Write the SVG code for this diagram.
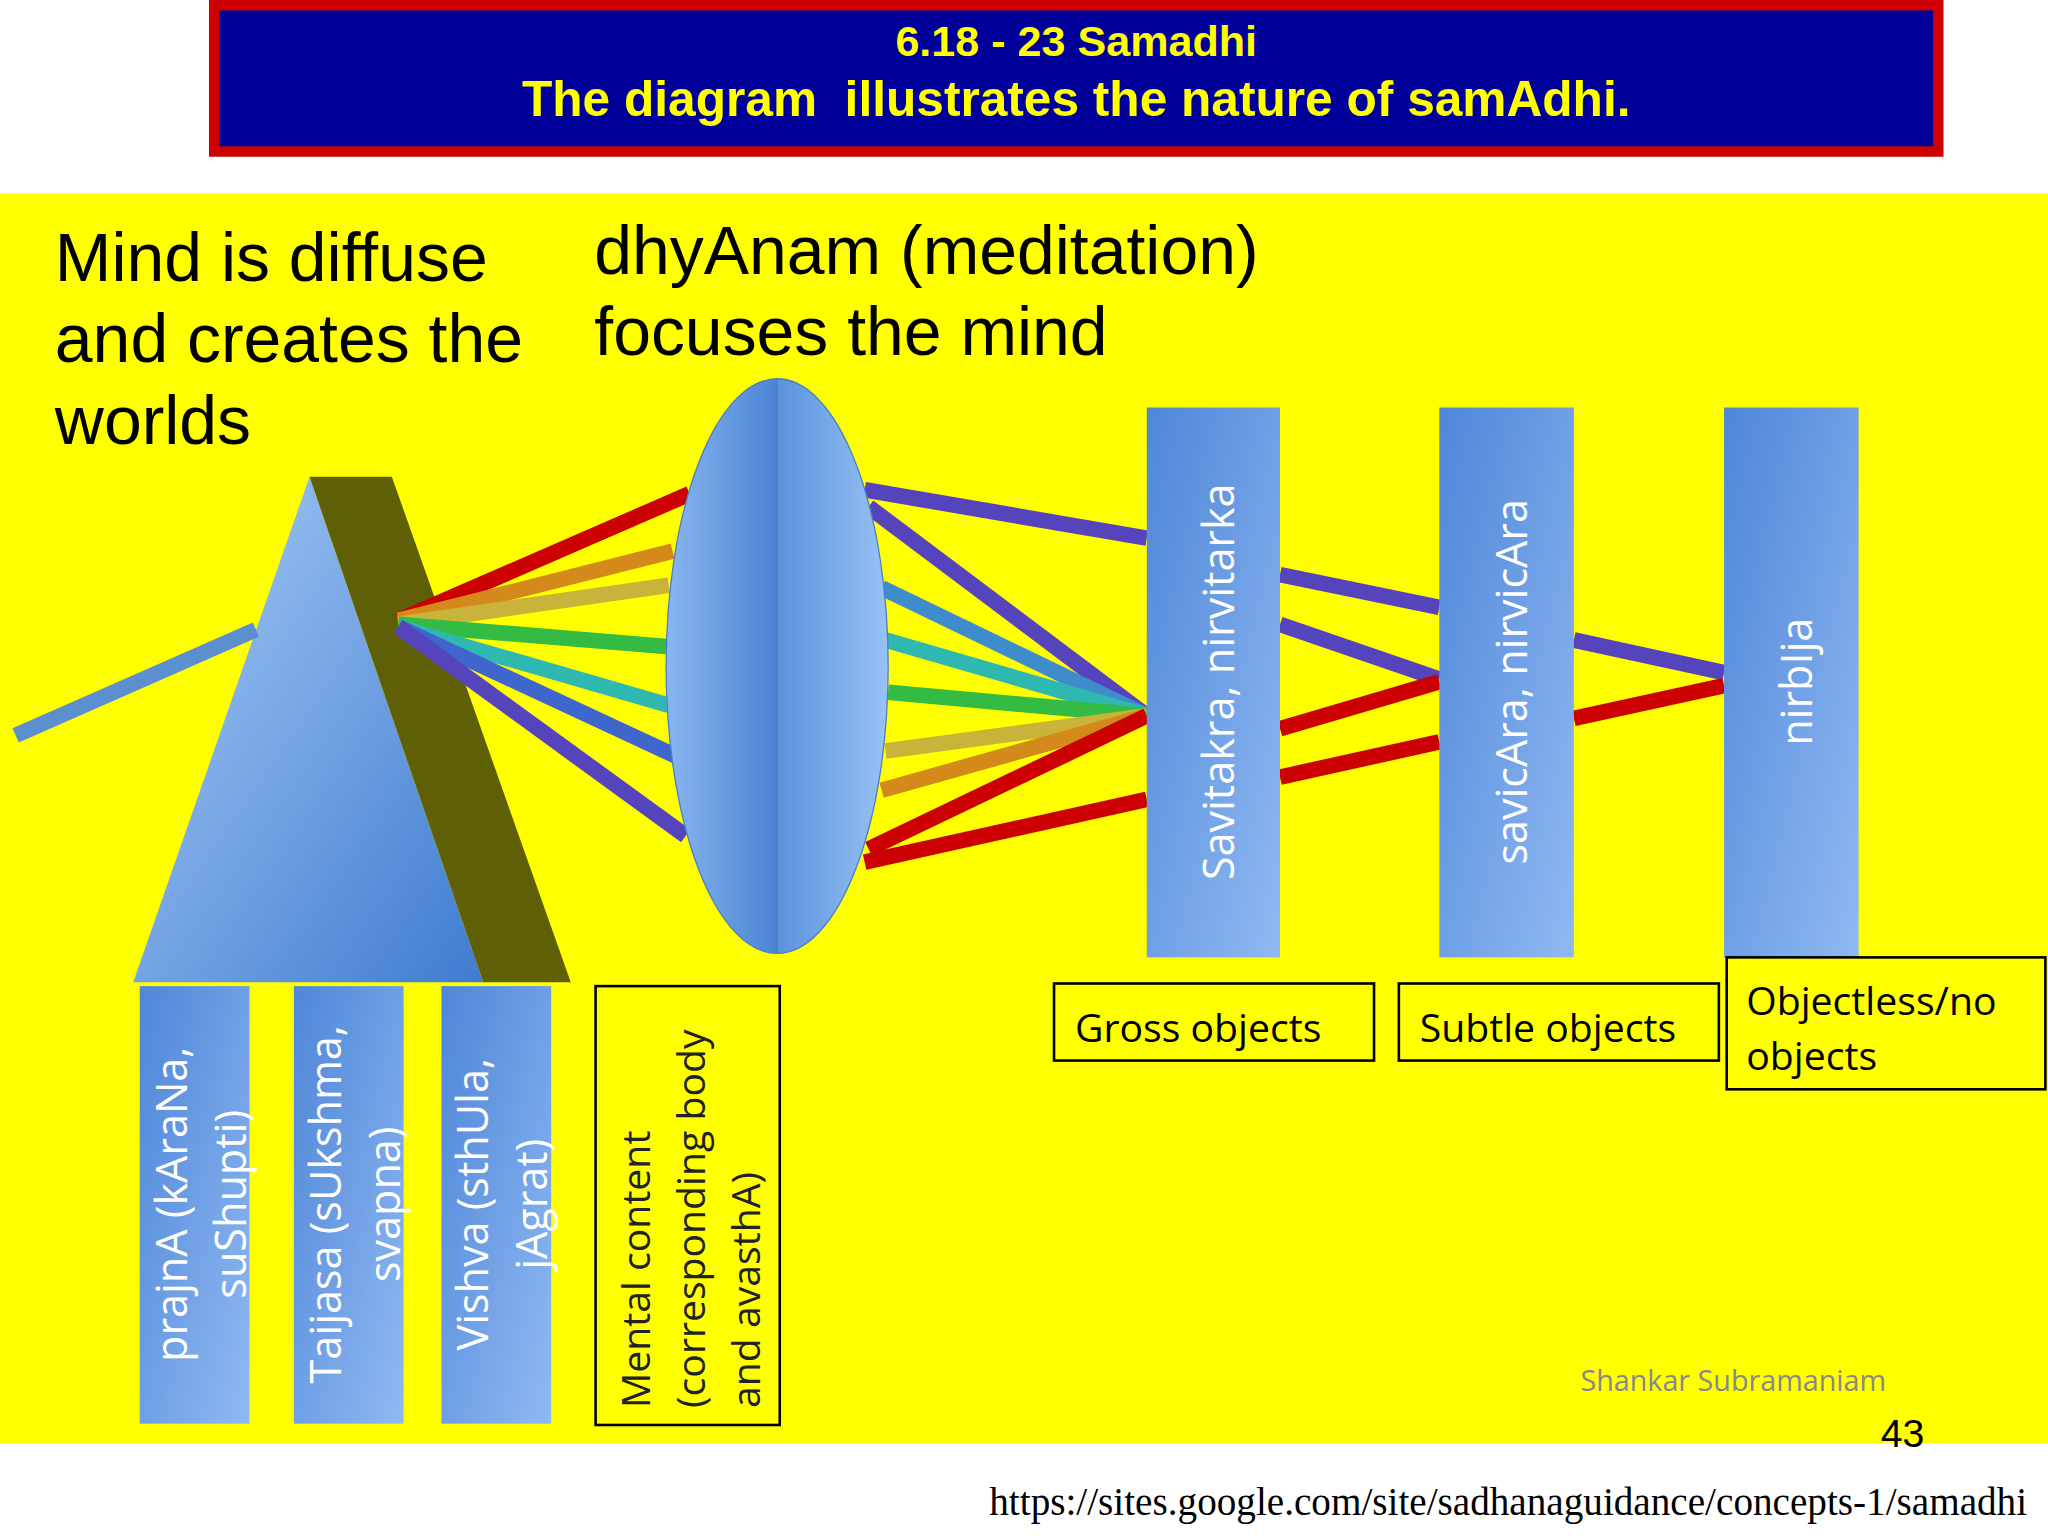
<svg xmlns="http://www.w3.org/2000/svg" width="2048" height="1536" viewBox="0 0 2048 1536">
<defs>
<linearGradient id="bx" x1="0" y1="0" x2="1" y2="1"><stop offset="0" stop-color="#4f86d8"/><stop offset="1" stop-color="#8fb9f2"/></linearGradient>
<linearGradient id="pr" x1="0" y1="0" x2="1" y2="1"><stop offset="0" stop-color="#a8cdf7"/><stop offset="1" stop-color="#3f7bd0"/></linearGradient>
<linearGradient id="ll" x1="0" y1="0" x2="1" y2="0"><stop offset="0" stop-color="#8ab6ef"/><stop offset="1" stop-color="#4a84d4"/></linearGradient>
<linearGradient id="lr" x1="0" y1="0" x2="1" y2="0"><stop offset="0" stop-color="#5a92dc"/><stop offset="1" stop-color="#99c2f5"/></linearGradient>
<style>
.t{font-family:"Liberation Sans",Arial,sans-serif}
.big{font-size:52px;fill:#000}
.c{font-family:"Open Sans","Liberation Sans",sans-serif}
.w{fill:#fff;font-size:33px}
.lb{fill:none;stroke:#000;stroke-width:2}
.r{stroke-width:12;fill:none}
</style>
</defs>
<g transform="scale(1.30612)">
<rect x="0" y="0" width="1568" height="1176" fill="#fff"/>
<g id="title">
<rect x="164" y="4" width="1320" height="112" fill="#000099" stroke="#cc0000" stroke-width="8"/>
<text class="t" x="824" y="43" text-anchor="middle" font-size="33" font-weight="bold" fill="#ffff00">6.18 - 23 Samadhi</text>
<text class="t" x="824" y="89" text-anchor="middle" font-size="38" font-weight="bold" fill="#ffff00" xml:space="preserve">The diagram  illustrates the nature of samAdhi.</text>
</g>
<rect x="0" y="148" width="1568" height="957" fill="#ffff00"/>
<g id="texts">
<text class="t big" x="42" y="215">Mind is diffuse</text>
<text class="t big" x="42" y="277">and creates the</text>
<text class="t big" x="42" y="340">worlds</text>
<text class="t big" x="455" y="210">dhyAnam (meditation)</text>
<text class="t big" x="455" y="272">focuses the mind</text>
</g>
<g id="prism">
<polygon points="237,365 102,752 370,752" fill="url(#pr)"/>
<polygon points="237,365 300,365 437,752 370,752" fill="#5f5f08"/>
</g>
<g id="connectors">
<line x1="12" y1="563" x2="196" y2="482" stroke="#5b8fd0" class="r"/>
<g class="r">
<line x1="305" y1="475" x2="528" y2="378" stroke="#cc0000"/>
<line x1="305" y1="475" x2="515" y2="422" stroke="#d48a1a"/>
<line x1="305" y1="478" x2="512" y2="448" stroke="#c8b43a"/>
<line x1="305" y1="478" x2="510" y2="495" stroke="#33bb44"/>
<line x1="305" y1="480" x2="512" y2="540" stroke="#2fb8b0"/>
<line x1="305" y1="480" x2="520" y2="580" stroke="#3f66cc"/>
<line x1="305" y1="480" x2="525" y2="640" stroke="#5544bb"/>
<line x1="662" y1="375" x2="878" y2="412" stroke="#5544bb"/>
<line x1="665" y1="388" x2="878" y2="548" stroke="#5544bb"/>
<line x1="675" y1="450" x2="878" y2="548" stroke="#3f8ccc"/>
<line x1="678" y1="490" x2="878" y2="548" stroke="#2fb8b0"/>
<line x1="680" y1="530" x2="878" y2="548" stroke="#33bb44"/>
<line x1="678" y1="575" x2="878" y2="548" stroke="#c8b43a"/>
<line x1="675" y1="605" x2="878" y2="548" stroke="#d48a1a"/>
<line x1="665" y1="650" x2="878" y2="548" stroke="#cc0000"/>
<line x1="662" y1="660" x2="878" y2="612" stroke="#cc0000"/>
<line x1="980" y1="440" x2="1102" y2="465" stroke="#5544bb"/>
<line x1="980" y1="478" x2="1102" y2="520" stroke="#5544bb"/>
<line x1="980" y1="558" x2="1102" y2="522" stroke="#cc0000"/>
<line x1="980" y1="595" x2="1102" y2="568" stroke="#cc0000"/>
<line x1="1205" y1="490" x2="1320" y2="515" stroke="#5544bb"/>
<line x1="1205" y1="550" x2="1320" y2="525" stroke="#cc0000"/>
</g>
</g>
<g id="lens">
<path d="M595,290 A85,220 0 0 0 595,730 Z" fill="url(#ll)" stroke="#4a7fc8"/>
<path d="M595,290 A85,220 0 0 1 595,730 Z" fill="url(#lr)" stroke="#4a7fc8"/>
</g>
<g id="savitarka"><rect x="878" y="312" width="102" height="421" fill="url(#bx)"/>
<text class="c w" transform="translate(945,522) rotate(-90)" text-anchor="middle">Savitakra, nirvitarka</text></g>
<g id="savicara"><rect x="1102" y="312" width="103" height="421" fill="url(#bx)"/>
<text class="c w" transform="translate(1169,522) rotate(-90)" text-anchor="middle">savicAra, nirvicAra</text></g>
<g id="nirbija"><rect x="1320" y="312" width="103" height="421" fill="url(#bx)"/>
<text class="c w" transform="translate(1387,522) rotate(-90)" text-anchor="middle">nirbIja</text></g>
<g id="gross"><rect class="lb" x="807" y="753" width="245" height="59"/><text class="c" x="823" y="798" font-size="30">Gross objects</text></g>
<g id="subtle"><rect class="lb" x="1071" y="753" width="245" height="59"/><text class="c" x="1087" y="798" font-size="30">Subtle objects</text></g>
<g id="objectless"><rect class="lb" x="1322" y="733" width="244" height="101"/><text class="c" x="1337" y="777" font-size="30">Objectless/no</text><text class="c" x="1337" y="819" font-size="30">objects</text></g>
<g id="prajna"><rect x="107" y="755" width="84" height="335" fill="url(#bx)"/>
<text class="c w" transform="translate(143,922) rotate(-90)" text-anchor="middle">prajnA (kAraNa,</text>
<text class="c w" transform="translate(188,922) rotate(-90)" text-anchor="middle">suShupti)</text></g>
<g id="taijasa"><rect x="225" y="755" width="84" height="335" fill="url(#bx)"/>
<text class="c w" transform="translate(261,922) rotate(-90)" text-anchor="middle">Taijasa (sUkshma,</text>
<text class="c w" transform="translate(306,922) rotate(-90)" text-anchor="middle">svapna)</text></g>
<g id="vishva"><rect x="338" y="755" width="84" height="335" fill="url(#bx)"/>
<text class="c w" transform="translate(374,922) rotate(-90)" text-anchor="middle">Vishva (sthUla,</text>
<text class="c w" transform="translate(419,922) rotate(-90)" text-anchor="middle">jAgrat)</text></g>
<g id="mental"><rect class="lb" x="456" y="755" width="141" height="336"/>
<text class="c" font-size="30" fill="#222" transform="translate(498,1078) rotate(-90)">Mental content</text>
<text class="c" font-size="30" fill="#222" transform="translate(540,1078) rotate(-90)">(corresponding body</text>
<text class="c" font-size="30" fill="#222" transform="translate(582,1078) rotate(-90)">and avasthA)</text></g>
<text class="c" x="1210" y="1065" font-size="22" fill="#888">Shankar Subramaniam</text>
<text class="t" x="1440" y="1108" font-size="30" fill="#000">43</text>
<text x="1552" y="1160" text-anchor="end" font-family="Liberation Serif,serif" font-size="30" fill="#000">https://sites.google.com/site/sadhanaguidance/concepts-1/samadhi</text>
</g>
</svg>
